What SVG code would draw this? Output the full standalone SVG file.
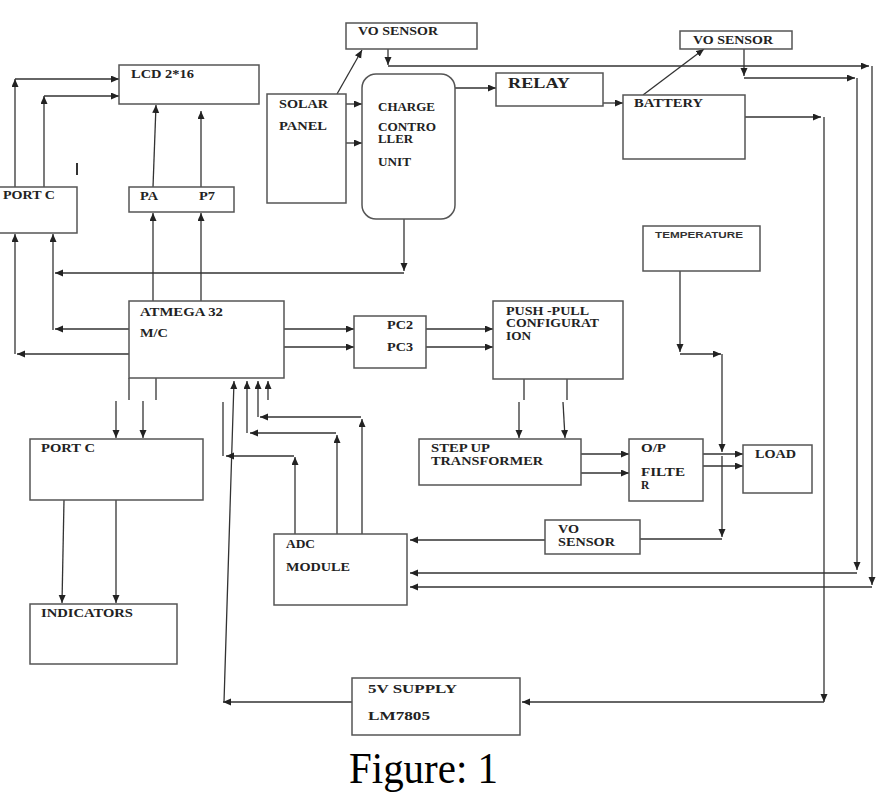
<svg xmlns="http://www.w3.org/2000/svg" width="891" height="795" viewBox="0 0 891 795">
<defs>
<marker id="ah" markerUnits="userSpaceOnUse" markerWidth="9" markerHeight="8" refX="8" refY="3.5" orient="auto">
<path d="M0,0 L8,3.5 L0,7 z" fill="#222"/>
</marker>
<style>
.box{fill:#fff;stroke:#555;stroke-width:1.5}
.ln{fill:none;stroke:#333;stroke-width:1.3}
.ar{fill:none;stroke:#333;stroke-width:1.3;marker-end:url(#ah)}
.t{font-family:"Liberation Serif","Times New Roman",serif;font-weight:bold;font-size:11.5px;fill:#222}
.ts{font-family:"Liberation Sans",Arial,sans-serif;font-weight:bold;font-size:8.5px;fill:#333}
.cap{font-family:"Liberation Serif","Times New Roman",serif;font-size:45px;fill:#000}
</style>
</defs>
<rect width="891" height="795" fill="#fff"/>

<g id="connectors">
<path class="ar" d="M15,187 V79"/>
<path class="ar" d="M15,79 H119"/>
<path class="ar" d="M44,187 V96"/>
<path class="ar" d="M44,96 H119"/>
<path class="ar" d="M153,187 L156,105"/>
<path class="ar" d="M201,187 V111"/>
<path class="ar" d="M153,301 V213"/>
<path class="ar" d="M201,301 V213"/>
<path class="ln" d="M77,163 V175" style="stroke-width:2"/>
<path class="ar" d="M404,219 V271"/>
<path class="ar" d="M404,273 H55"/>
<path class="ar" d="M129,329 H55"/>
<path class="ar" d="M53,330 V234"/>
<path class="ar" d="M129,354 H17"/>
<path class="ar" d="M15,354 V234"/>
<path class="ar" d="M337,94 L362,50"/>
<path class="ar" d="M346,104 H362"/>
<path class="ar" d="M346,143 H362"/>
<path class="ar" d="M388,49 V65"/>
<path class="ar" d="M388,66 H869"/>
<path class="ar" d="M872,66 V585"/>
<path class="ar" d="M872,587 H410"/>
<path class="ar" d="M455,88 H496"/>
<path class="ar" d="M603,103 H623"/>
<path class="ar" d="M643,95 L704,49"/>
<path class="ar" d="M744,49 V76"/>
<path class="ar" d="M744,78 H855"/>
<path class="ar" d="M857,78 V570"/>
<path class="ar" d="M857,573 H410"/>
<path class="ar" d="M745,117 H821"/>
<path class="ar" d="M824,117 V702"/>
<path class="ar" d="M824,702 H522"/>
<path class="ar" d="M352,702 H223"/>
<path class="ar" d="M224,702 L234,381"/>
<path class="ar" d="M680,271 V352"/>
<path class="ar" d="M680,354 H721"/>
<path class="ar" d="M722,354 V452"/>
<path class="ar" d="M722,456 V537"/>
<path class="ln" d="M640,539 H722"/>
<path class="ar" d="M545,540 H410"/>
<path class="ar" d="M703,454 H743"/>
<path class="ar" d="M703,466 H743"/>
<path class="ar" d="M581,454 H629"/>
<path class="ar" d="M581,473 H629"/>
<path class="ln" d="M524,379 V400"/>
<path class="ln" d="M567,379 V400"/>
<path class="ar" d="M519,402 V438"/>
<path class="ar" d="M563,402 L565,438"/>
<path class="ar" d="M284,329 H354"/>
<path class="ar" d="M284,347 H354"/>
<path class="ar" d="M426,329 H493"/>
<path class="ar" d="M426,347 H493"/>
<path class="ln" d="M129,378 V400"/>
<path class="ln" d="M156,378 V400"/>
<path class="ar" d="M116,401 V438"/>
<path class="ar" d="M143,401 V438"/>
<path class="ar" d="M64,500 L62,603"/>
<path class="ar" d="M116,500 V603"/>
<path class="ar" d="M295,534 V457"/>
<path class="ar" d="M294,456 H226"/>
<path class="ln" d="M223,456 V402"/>
<path class="ar" d="M337,534 V435"/>
<path class="ar" d="M336,433 H250"/>
<path class="ar" d="M247,433 V381"/>
<path class="ar" d="M362,534 V419"/>
<path class="ar" d="M361,417 H260"/>
<path class="ar" d="M258,417 V381"/>
<path class="ar" d="M268,400 V381"/>
</g>

<g id="lcd"><rect class="box" x="119" y="65" width="140" height="39"/><text class="t" x="131" y="78" textLength="63" lengthAdjust="spacingAndGlyphs">LCD 2*16</text></g>
<g id="portc-top"><rect class="box" x="-2" y="187" width="79" height="46"/><text class="t" x="3" y="199" textLength="52" lengthAdjust="spacingAndGlyphs">PORT C</text></g>
<g id="pa-p7"><rect class="box" x="129" y="187" width="105" height="25"/><text class="t" x="140" y="200" textLength="18" lengthAdjust="spacingAndGlyphs">PA</text><text class="t" x="199" y="200" textLength="16" lengthAdjust="spacingAndGlyphs">P7</text></g>
<g id="vo-sensor-1"><rect class="box" x="346" y="23" width="131" height="26"/><text class="t" x="358" y="35" textLength="80" lengthAdjust="spacingAndGlyphs">VO SENSOR</text></g>
<g id="solar-panel"><rect class="box" x="267" y="94" width="79" height="109"/><text class="t" x="279" y="108" textLength="49" lengthAdjust="spacingAndGlyphs">SOLAR</text><text class="t" x="279" y="130" textLength="48" lengthAdjust="spacingAndGlyphs">PANEL</text></g>
<g id="charge-controller"><rect class="box" x="362" y="74" width="93" height="145" rx="14"/><text class="t" x="378" y="111" textLength="57" lengthAdjust="spacingAndGlyphs">CHARGE</text><text class="t" x="378" y="131" textLength="58" lengthAdjust="spacingAndGlyphs">CONTRO</text><text class="t" x="378" y="143" textLength="35" lengthAdjust="spacingAndGlyphs">LLER</text><text class="t" x="378" y="166" textLength="33" lengthAdjust="spacingAndGlyphs">UNIT</text></g>
<g id="relay"><rect class="box" x="496" y="73" width="107" height="33"/><text class="t" x="508" y="88" style="font-size:14px" textLength="62" lengthAdjust="spacingAndGlyphs">RELAY</text></g>
<g id="battery"><rect class="box" x="623" y="95" width="122" height="64"/><text class="t" x="634" y="107" textLength="69" lengthAdjust="spacingAndGlyphs">BATTERY</text></g>
<g id="vo-sensor-2"><rect class="box" x="680" y="31" width="112" height="18"/><text class="t" x="693" y="44" textLength="80" lengthAdjust="spacingAndGlyphs">VO SENSOR</text></g>
<g id="temperature"><rect class="box" x="643" y="226" width="117" height="45"/><text class="ts" x="655" y="238" textLength="88" lengthAdjust="spacingAndGlyphs">TEMPERATURE</text></g>
<g id="atmega"><rect class="box" x="129" y="301" width="155" height="77"/><text class="t" x="140" y="316" textLength="83" lengthAdjust="spacingAndGlyphs">ATMEGA 32</text><text class="t" x="140" y="337" textLength="28" lengthAdjust="spacingAndGlyphs">M/C</text></g>
<g id="pc2-pc3"><rect class="box" x="354" y="316" width="72" height="52"/><text class="t" x="387" y="329" textLength="26" lengthAdjust="spacingAndGlyphs">PC2</text><text class="t" x="387" y="351" textLength="26" lengthAdjust="spacingAndGlyphs">PC3</text></g>
<g id="push-pull"><rect class="box" x="493" y="301" width="130" height="78"/><text class="t" x="506" y="315" textLength="83" lengthAdjust="spacingAndGlyphs">PUSH -PULL</text><text class="t" x="506" y="327" textLength="93" lengthAdjust="spacingAndGlyphs">CONFIGURAT</text><text class="t" x="506" y="340" textLength="25" lengthAdjust="spacingAndGlyphs">ION</text></g>
<g id="portc-bottom"><rect class="box" x="30" y="439" width="173" height="61"/><text class="t" x="41" y="452" textLength="54" lengthAdjust="spacingAndGlyphs">PORT C</text></g>
<g id="indicators"><rect class="box" x="30" y="604" width="147" height="60"/><text class="t" x="41" y="617" textLength="92" lengthAdjust="spacingAndGlyphs">INDICATORS</text></g>
<g id="step-up"><rect class="box" x="419" y="439" width="162" height="46"/><text class="t" x="431" y="452" textLength="59" lengthAdjust="spacingAndGlyphs">STEP UP</text><text class="t" x="431" y="465" textLength="112" lengthAdjust="spacingAndGlyphs">TRANSFORMER</text></g>
<g id="op-filter"><rect class="box" x="629" y="439" width="74" height="62"/><text class="t" x="641" y="452" textLength="25" lengthAdjust="spacingAndGlyphs">O/P</text><text class="t" x="641" y="476" textLength="44" lengthAdjust="spacingAndGlyphs">FILTE</text><text class="t" x="641" y="489">R</text></g>
<g id="load"><rect class="box" x="743" y="445" width="69" height="48"/><text class="t" x="755" y="458" textLength="41" lengthAdjust="spacingAndGlyphs">LOAD</text></g>
<g id="vo-sensor-3"><rect class="box" x="545" y="520" width="95" height="34"/><text class="t" x="558" y="533" textLength="21" lengthAdjust="spacingAndGlyphs">VO</text><text class="t" x="558" y="546" textLength="57" lengthAdjust="spacingAndGlyphs">SENSOR</text></g>
<g id="adc"><rect class="box" x="274" y="534" width="133" height="71"/><text class="t" x="286" y="548" textLength="29" lengthAdjust="spacingAndGlyphs">ADC</text><text class="t" x="286" y="571" textLength="64" lengthAdjust="spacingAndGlyphs">MODULE</text></g>
<g id="supply"><rect class="box" x="352" y="678" width="168" height="57"/><text class="t" x="368" y="693" textLength="89" lengthAdjust="spacingAndGlyphs">5V SUPPLY</text><text class="t" x="368" y="720" textLength="62" lengthAdjust="spacingAndGlyphs">LM7805</text></g>

<text class="cap" x="349" y="783" textLength="149" lengthAdjust="spacingAndGlyphs">Figure: 1</text>
</svg>
